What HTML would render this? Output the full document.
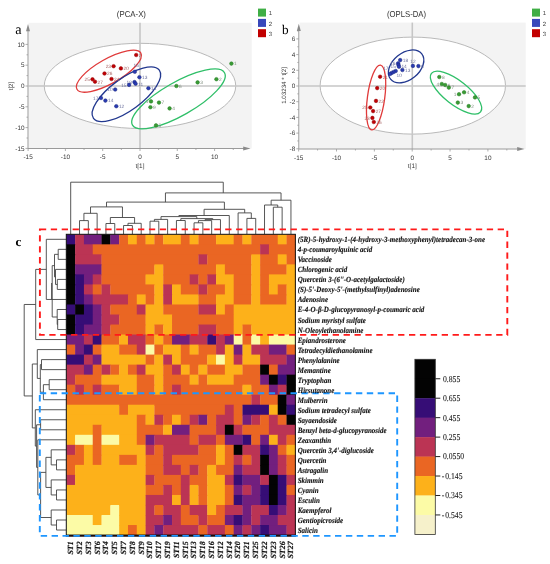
<!DOCTYPE html>
<html><head><meta charset="utf-8"><title>Figure</title>
<style>html,body{margin:0;padding:0;background:#fff;}body{width:550px;height:564px;overflow:hidden;}svg{display:block;}</style>
</head><body>
<svg width="550" height="564" viewBox="0 0 550 564" text-rendering="geometricPrecision">
<rect width="550" height="564" fill="#fff"/>
<rect x="28.5" y="22.8" width="223.2" height="125.7" fill="#f3f3f3"/>
<ellipse cx="140.0" cy="85.9" rx="95.75" ry="42.6" fill="#fff" stroke="#a8a8a8" stroke-width="0.8"/>
<line x1="140.0" y1="22.8" x2="140.0" y2="148.5" stroke="#c6c6c6" stroke-width="1.6"/>
<line x1="28.5" y1="86.0" x2="251.7" y2="86.0" stroke="#c6c6c6" stroke-width="1.6"/>
<line x1="28.0" y1="148.5" x2="28.0" y2="27.8" stroke="#9a9a9a" stroke-width="1"/>
<line x1="28.0" y1="148.5" x2="246.7" y2="148.5" stroke="#9a9a9a" stroke-width="1"/>
<path d="M26.0,31.3 L28.0,24.0 L30.0,31.3 Z" fill="#8a8a8a"/>
<path d="M243.2,146.5 L250.5,148.5 L243.2,150.5 Z" fill="#8a8a8a"/>
<line x1="25.5" y1="44.4" x2="28.0" y2="44.4" stroke="#9a9a9a" stroke-width="0.8"/>
<text x="24.50" y="46.60" font-size="6.4" fill="#383838" text-anchor="end" font-family="'Liberation Sans', 'DejaVu Sans', sans-serif" >10</text>
<line x1="25.5" y1="65.2" x2="28.0" y2="65.2" stroke="#9a9a9a" stroke-width="0.8"/>
<text x="24.50" y="67.40" font-size="6.4" fill="#383838" text-anchor="end" font-family="'Liberation Sans', 'DejaVu Sans', sans-serif" >5</text>
<line x1="25.5" y1="86.0" x2="28.0" y2="86.0" stroke="#9a9a9a" stroke-width="0.8"/>
<text x="24.50" y="88.20" font-size="6.4" fill="#383838" text-anchor="end" font-family="'Liberation Sans', 'DejaVu Sans', sans-serif" >0</text>
<line x1="25.5" y1="106.8" x2="28.0" y2="106.8" stroke="#9a9a9a" stroke-width="0.8"/>
<text x="24.50" y="109.00" font-size="6.4" fill="#383838" text-anchor="end" font-family="'Liberation Sans', 'DejaVu Sans', sans-serif" >-5</text>
<line x1="25.5" y1="127.6" x2="28.0" y2="127.6" stroke="#9a9a9a" stroke-width="0.8"/>
<text x="24.50" y="129.80" font-size="6.4" fill="#383838" text-anchor="end" font-family="'Liberation Sans', 'DejaVu Sans', sans-serif" >-10</text>
<line x1="25.5" y1="148.4" x2="28.0" y2="148.4" stroke="#9a9a9a" stroke-width="0.8"/>
<text x="24.50" y="150.60" font-size="6.4" fill="#383838" text-anchor="end" font-family="'Liberation Sans', 'DejaVu Sans', sans-serif" >-15</text>
<line x1="26.5" y1="54.8" x2="28.0" y2="54.8" stroke="#9a9a9a" stroke-width="0.8"/>
<line x1="26.5" y1="75.6" x2="28.0" y2="75.6" stroke="#9a9a9a" stroke-width="0.8"/>
<line x1="26.5" y1="96.4" x2="28.0" y2="96.4" stroke="#9a9a9a" stroke-width="0.8"/>
<line x1="26.5" y1="117.2" x2="28.0" y2="117.2" stroke="#9a9a9a" stroke-width="0.8"/>
<line x1="26.5" y1="138.0" x2="28.0" y2="138.0" stroke="#9a9a9a" stroke-width="0.8"/>
<line x1="28.099999999999994" y1="148.5" x2="28.099999999999994" y2="151.0" stroke="#9a9a9a" stroke-width="0.8"/>
<text x="28.10" y="159.30" font-size="6.4" fill="#383838" text-anchor="middle" font-family="'Liberation Sans', 'DejaVu Sans', sans-serif" >-15</text>
<line x1="65.4" y1="148.5" x2="65.4" y2="151.0" stroke="#9a9a9a" stroke-width="0.8"/>
<text x="65.40" y="159.30" font-size="6.4" fill="#383838" text-anchor="middle" font-family="'Liberation Sans', 'DejaVu Sans', sans-serif" >-10</text>
<line x1="102.7" y1="148.5" x2="102.7" y2="151.0" stroke="#9a9a9a" stroke-width="0.8"/>
<text x="102.70" y="159.30" font-size="6.4" fill="#383838" text-anchor="middle" font-family="'Liberation Sans', 'DejaVu Sans', sans-serif" >-5</text>
<line x1="140.0" y1="148.5" x2="140.0" y2="151.0" stroke="#9a9a9a" stroke-width="0.8"/>
<text x="140.00" y="159.30" font-size="6.4" fill="#383838" text-anchor="middle" font-family="'Liberation Sans', 'DejaVu Sans', sans-serif" >0</text>
<line x1="177.3" y1="148.5" x2="177.3" y2="151.0" stroke="#9a9a9a" stroke-width="0.8"/>
<text x="177.30" y="159.30" font-size="6.4" fill="#383838" text-anchor="middle" font-family="'Liberation Sans', 'DejaVu Sans', sans-serif" >5</text>
<line x1="214.6" y1="148.5" x2="214.6" y2="151.0" stroke="#9a9a9a" stroke-width="0.8"/>
<text x="214.60" y="159.30" font-size="6.4" fill="#383838" text-anchor="middle" font-family="'Liberation Sans', 'DejaVu Sans', sans-serif" >10</text>
<line x1="46.75" y1="148.5" x2="46.75" y2="150.0" stroke="#9a9a9a" stroke-width="0.8"/>
<line x1="84.05" y1="148.5" x2="84.05" y2="150.0" stroke="#9a9a9a" stroke-width="0.8"/>
<line x1="121.35" y1="148.5" x2="121.35" y2="150.0" stroke="#9a9a9a" stroke-width="0.8"/>
<line x1="158.65" y1="148.5" x2="158.65" y2="150.0" stroke="#9a9a9a" stroke-width="0.8"/>
<line x1="195.95" y1="148.5" x2="195.95" y2="150.0" stroke="#9a9a9a" stroke-width="0.8"/>
<line x1="233.25" y1="148.5" x2="233.25" y2="150.0" stroke="#9a9a9a" stroke-width="0.8"/>
<text x="140.00" y="167.60" font-size="6.4" fill="#383838" text-anchor="middle" font-family="'Liberation Sans', 'DejaVu Sans', sans-serif" >t[1]</text>
<text x="12.8" y="86.0" font-size="6.2" fill="#383838" text-anchor="middle" font-family="'Liberation Sans', 'DejaVu Sans', sans-serif" transform="rotate(-90 12.8 86.0)">t[2]</text>
<text x="131.40" y="17.20" font-size="8.6" fill="#333" text-anchor="middle" font-family="'Liberation Sans', 'DejaVu Sans', sans-serif" textLength="29.2" lengthAdjust="spacingAndGlyphs">(PCA-X)</text>
<ellipse cx="108.9" cy="71.2" rx="36.7" ry="12.3" transform="rotate(-29.5 108.9 71.2)" fill="none" stroke="#e03a3a" stroke-width="1.3"/>
<ellipse cx="126.4" cy="94.3" rx="40.8" ry="16.0" transform="rotate(-36.2 126.4 94.3)" fill="none" stroke="#22388f" stroke-width="1.3"/>
<ellipse cx="178.5" cy="98.9" rx="52.95" ry="16.6" transform="rotate(-29.66 178.5 98.9)" fill="none" stroke="#2fbf68" stroke-width="1.3"/>
<circle cx="136.2" cy="55.0" r="1.8" fill="#c00005" stroke="#900000" stroke-width="0.5"/>
<text x="138.80" y="56.80" font-size="4.8" fill="#a86262" text-anchor="start" font-family="'Liberation Sans', 'DejaVu Sans', sans-serif" >2</text>
<circle cx="113.6" cy="66.2" r="1.8" fill="#c00005" stroke="#900000" stroke-width="0.5"/>
<text x="111.00" y="68.00" font-size="4.8" fill="#a86262" text-anchor="end" font-family="'Liberation Sans', 'DejaVu Sans', sans-serif" >23</text>
<circle cx="120.9" cy="68.4" r="1.8" fill="#c00005" stroke="#900000" stroke-width="0.5"/>
<text x="123.50" y="70.20" font-size="4.8" fill="#a86262" text-anchor="start" font-family="'Liberation Sans', 'DejaVu Sans', sans-serif" >20</text>
<circle cx="104.5" cy="73.5" r="1.8" fill="#c00005" stroke="#900000" stroke-width="0.5"/>
<text x="107.10" y="75.30" font-size="4.8" fill="#a86262" text-anchor="start" font-family="'Liberation Sans', 'DejaVu Sans', sans-serif" >26</text>
<circle cx="111.5" cy="79.0" r="1.8" fill="#c00005" stroke="#900000" stroke-width="0.5"/>
<text x="114.10" y="80.80" font-size="4.8" fill="#a86262" text-anchor="start" font-family="'Liberation Sans', 'DejaVu Sans', sans-serif" >24</text>
<circle cx="92.5" cy="79.3" r="1.8" fill="#c00005" stroke="#900000" stroke-width="0.5"/>
<text x="89.90" y="81.10" font-size="4.8" fill="#a86262" text-anchor="end" font-family="'Liberation Sans', 'DejaVu Sans', sans-serif" >25</text>
<circle cx="95.0" cy="81.7" r="1.8" fill="#c00005" stroke="#900000" stroke-width="0.5"/>
<text x="97.60" y="83.50" font-size="4.8" fill="#a86262" text-anchor="start" font-family="'Liberation Sans', 'DejaVu Sans', sans-serif" >27</text>
<circle cx="134.8" cy="71.8" r="1.8" fill="#2a3bb2" stroke="#17247c" stroke-width="0.5"/>
<text x="133.50" y="67.20" font-size="4.8" fill="#6a6f9c" text-anchor="start" font-family="'Liberation Sans', 'DejaVu Sans', sans-serif" >16</text>
<circle cx="139.4" cy="77.2" r="1.8" fill="#2a3bb2" stroke="#17247c" stroke-width="0.5"/>
<text x="142.00" y="79.00" font-size="4.8" fill="#6a6f9c" text-anchor="start" font-family="'Liberation Sans', 'DejaVu Sans', sans-serif" >13</text>
<circle cx="134.5" cy="82.1" r="1.8" fill="#2a3bb2" stroke="#17247c" stroke-width="0.5"/>
<text x="131.90" y="83.90" font-size="4.8" fill="#6a6f9c" text-anchor="end" font-family="'Liberation Sans', 'DejaVu Sans', sans-serif" >18</text>
<circle cx="135.6" cy="83.7" r="1.8" fill="#2a3bb2" stroke="#17247c" stroke-width="0.5"/>
<text x="138.20" y="85.50" font-size="4.8" fill="#6a6f9c" text-anchor="start" font-family="'Liberation Sans', 'DejaVu Sans', sans-serif" >11</text>
<circle cx="129.1" cy="84.9" r="1.8" fill="#2a3bb2" stroke="#17247c" stroke-width="0.5"/>
<text x="126.50" y="86.70" font-size="4.8" fill="#6a6f9c" text-anchor="end" font-family="'Liberation Sans', 'DejaVu Sans', sans-serif" >15</text>
<circle cx="148.4" cy="88.2" r="1.8" fill="#2a3bb2" stroke="#17247c" stroke-width="0.5"/>
<text x="151.00" y="90.00" font-size="4.8" fill="#6a6f9c" text-anchor="start" font-family="'Liberation Sans', 'DejaVu Sans', sans-serif" >14</text>
<circle cx="115.2" cy="89.5" r="1.8" fill="#2a3bb2" stroke="#17247c" stroke-width="0.5"/>
<text x="112.60" y="91.30" font-size="4.8" fill="#6a6f9c" text-anchor="end" font-family="'Liberation Sans', 'DejaVu Sans', sans-serif" >10</text>
<circle cx="101.0" cy="98.0" r="1.8" fill="#2a3bb2" stroke="#17247c" stroke-width="0.5"/>
<text x="98.40" y="99.80" font-size="4.8" fill="#6a6f9c" text-anchor="end" font-family="'Liberation Sans', 'DejaVu Sans', sans-serif" >17</text>
<circle cx="105.4" cy="100.6" r="1.8" fill="#2a3bb2" stroke="#17247c" stroke-width="0.5"/>
<text x="108.00" y="102.40" font-size="4.8" fill="#6a6f9c" text-anchor="start" font-family="'Liberation Sans', 'DejaVu Sans', sans-serif" >14</text>
<circle cx="116.3" cy="106.2" r="1.8" fill="#2a3bb2" stroke="#17247c" stroke-width="0.5"/>
<text x="118.90" y="108.00" font-size="4.8" fill="#6a6f9c" text-anchor="start" font-family="'Liberation Sans', 'DejaVu Sans', sans-serif" >12</text>
<circle cx="231.4" cy="63.6" r="1.8" fill="#3a9b35" stroke="#217a1f" stroke-width="0.5"/>
<text x="234.00" y="65.40" font-size="4.8" fill="#7d8c7d" text-anchor="start" font-family="'Liberation Sans', 'DejaVu Sans', sans-serif" >1</text>
<circle cx="216.4" cy="79.2" r="1.8" fill="#3a9b35" stroke="#217a1f" stroke-width="0.5"/>
<text x="219.00" y="81.00" font-size="4.8" fill="#7d8c7d" text-anchor="start" font-family="'Liberation Sans', 'DejaVu Sans', sans-serif" >2</text>
<circle cx="197.6" cy="82.4" r="1.8" fill="#3a9b35" stroke="#217a1f" stroke-width="0.5"/>
<text x="200.20" y="84.20" font-size="4.8" fill="#7d8c7d" text-anchor="start" font-family="'Liberation Sans', 'DejaVu Sans', sans-serif" >3</text>
<circle cx="176.4" cy="86.0" r="1.8" fill="#3a9b35" stroke="#217a1f" stroke-width="0.5"/>
<text x="179.00" y="87.80" font-size="4.8" fill="#7d8c7d" text-anchor="start" font-family="'Liberation Sans', 'DejaVu Sans', sans-serif" >6</text>
<circle cx="151.0" cy="101.4" r="1.8" fill="#3a9b35" stroke="#217a1f" stroke-width="0.5"/>
<text x="148.40" y="103.20" font-size="4.8" fill="#7d8c7d" text-anchor="end" font-family="'Liberation Sans', 'DejaVu Sans', sans-serif" >1</text>
<circle cx="159.0" cy="102.6" r="1.8" fill="#3a9b35" stroke="#217a1f" stroke-width="0.5"/>
<text x="161.60" y="104.40" font-size="4.8" fill="#7d8c7d" text-anchor="start" font-family="'Liberation Sans', 'DejaVu Sans', sans-serif" >7</text>
<circle cx="150.4" cy="107.2" r="1.8" fill="#3a9b35" stroke="#217a1f" stroke-width="0.5"/>
<text x="153.00" y="109.00" font-size="4.8" fill="#7d8c7d" text-anchor="start" font-family="'Liberation Sans', 'DejaVu Sans', sans-serif" >9</text>
<circle cx="169.6" cy="108.4" r="1.8" fill="#3a9b35" stroke="#217a1f" stroke-width="0.5"/>
<text x="172.20" y="110.20" font-size="4.8" fill="#7d8c7d" text-anchor="start" font-family="'Liberation Sans', 'DejaVu Sans', sans-serif" >4</text>
<circle cx="156.0" cy="125.4" r="1.8" fill="#3a9b35" stroke="#217a1f" stroke-width="0.5"/>
<text x="158.60" y="127.20" font-size="4.8" fill="#7d8c7d" text-anchor="start" font-family="'Liberation Sans', 'DejaVu Sans', sans-serif" >5</text>
<rect x="258.0" y="8.60" width="8" height="8" fill="#3fae45"/>
<text x="268.80" y="15.20" font-size="6" fill="#444" text-anchor="start" font-family="'Liberation Sans', 'DejaVu Sans', sans-serif" >1</text>
<rect x="258.0" y="18.90" width="8" height="8" fill="#3848bb"/>
<text x="268.80" y="25.50" font-size="6" fill="#444" text-anchor="start" font-family="'Liberation Sans', 'DejaVu Sans', sans-serif" >2</text>
<rect x="258.0" y="29.20" width="8" height="8" fill="#c20000"/>
<text x="268.80" y="35.80" font-size="6" fill="#444" text-anchor="start" font-family="'Liberation Sans', 'DejaVu Sans', sans-serif" >3</text>
<text x="15.20" y="33.90" font-size="14.2" fill="#000" text-anchor="start" font-family="'Liberation Serif', 'DejaVu Serif', serif" >a</text>
<rect x="299.5" y="22.6" width="226.20000000000005" height="126.4" fill="#f3f3f3"/>
<ellipse cx="412.8" cy="85.6" rx="92.7" ry="48.5" fill="#fff" stroke="#a8a8a8" stroke-width="0.8"/>
<line x1="412.3" y1="22.6" x2="412.3" y2="149.0" stroke="#c6c6c6" stroke-width="1.6"/>
<line x1="299.5" y1="86.0" x2="525.7" y2="86.0" stroke="#c6c6c6" stroke-width="1.6"/>
<line x1="298.8" y1="149.0" x2="298.8" y2="27.6" stroke="#9a9a9a" stroke-width="1"/>
<line x1="298.8" y1="149.0" x2="520.7" y2="149.0" stroke="#9a9a9a" stroke-width="1"/>
<path d="M296.8,31.1 L298.8,23.8 L300.8,31.1 Z" fill="#8a8a8a"/>
<path d="M517.2,147.0 L524.5,149.0 L517.2,151.0 Z" fill="#8a8a8a"/>
<line x1="296.3" y1="38.900000000000006" x2="298.8" y2="38.900000000000006" stroke="#9a9a9a" stroke-width="0.8"/>
<text x="295.30" y="41.10" font-size="6.4" fill="#383838" text-anchor="end" font-family="'Liberation Sans', 'DejaVu Sans', sans-serif" >6</text>
<line x1="296.3" y1="54.6" x2="298.8" y2="54.6" stroke="#9a9a9a" stroke-width="0.8"/>
<text x="295.30" y="56.80" font-size="6.4" fill="#383838" text-anchor="end" font-family="'Liberation Sans', 'DejaVu Sans', sans-serif" >4</text>
<line x1="296.3" y1="70.3" x2="298.8" y2="70.3" stroke="#9a9a9a" stroke-width="0.8"/>
<text x="295.30" y="72.50" font-size="6.4" fill="#383838" text-anchor="end" font-family="'Liberation Sans', 'DejaVu Sans', sans-serif" >2</text>
<line x1="296.3" y1="86.0" x2="298.8" y2="86.0" stroke="#9a9a9a" stroke-width="0.8"/>
<text x="295.30" y="88.20" font-size="6.4" fill="#383838" text-anchor="end" font-family="'Liberation Sans', 'DejaVu Sans', sans-serif" >0</text>
<line x1="296.3" y1="101.7" x2="298.8" y2="101.7" stroke="#9a9a9a" stroke-width="0.8"/>
<text x="295.30" y="103.90" font-size="6.4" fill="#383838" text-anchor="end" font-family="'Liberation Sans', 'DejaVu Sans', sans-serif" >-2</text>
<line x1="296.3" y1="117.4" x2="298.8" y2="117.4" stroke="#9a9a9a" stroke-width="0.8"/>
<text x="295.30" y="119.60" font-size="6.4" fill="#383838" text-anchor="end" font-family="'Liberation Sans', 'DejaVu Sans', sans-serif" >-4</text>
<line x1="296.3" y1="133.1" x2="298.8" y2="133.1" stroke="#9a9a9a" stroke-width="0.8"/>
<text x="295.30" y="135.30" font-size="6.4" fill="#383838" text-anchor="end" font-family="'Liberation Sans', 'DejaVu Sans', sans-serif" >-6</text>
<line x1="296.3" y1="148.8" x2="298.8" y2="148.8" stroke="#9a9a9a" stroke-width="0.8"/>
<text x="295.30" y="151.00" font-size="6.4" fill="#383838" text-anchor="end" font-family="'Liberation Sans', 'DejaVu Sans', sans-serif" >-8</text>
<line x1="297.3" y1="31.050000000000004" x2="298.8" y2="31.050000000000004" stroke="#9a9a9a" stroke-width="0.8"/>
<line x1="297.3" y1="46.75" x2="298.8" y2="46.75" stroke="#9a9a9a" stroke-width="0.8"/>
<line x1="297.3" y1="62.45" x2="298.8" y2="62.45" stroke="#9a9a9a" stroke-width="0.8"/>
<line x1="297.3" y1="78.15" x2="298.8" y2="78.15" stroke="#9a9a9a" stroke-width="0.8"/>
<line x1="297.3" y1="93.85" x2="298.8" y2="93.85" stroke="#9a9a9a" stroke-width="0.8"/>
<line x1="297.3" y1="109.55" x2="298.8" y2="109.55" stroke="#9a9a9a" stroke-width="0.8"/>
<line x1="297.3" y1="125.25" x2="298.8" y2="125.25" stroke="#9a9a9a" stroke-width="0.8"/>
<line x1="297.3" y1="140.95" x2="298.8" y2="140.95" stroke="#9a9a9a" stroke-width="0.8"/>
<line x1="298.65" y1="149.0" x2="298.65" y2="151.5" stroke="#9a9a9a" stroke-width="0.8"/>
<text x="298.65" y="159.80" font-size="6.4" fill="#383838" text-anchor="middle" font-family="'Liberation Sans', 'DejaVu Sans', sans-serif" >-15</text>
<line x1="336.5" y1="149.0" x2="336.5" y2="151.5" stroke="#9a9a9a" stroke-width="0.8"/>
<text x="336.50" y="159.80" font-size="6.4" fill="#383838" text-anchor="middle" font-family="'Liberation Sans', 'DejaVu Sans', sans-serif" >-10</text>
<line x1="374.34999999999997" y1="149.0" x2="374.34999999999997" y2="151.5" stroke="#9a9a9a" stroke-width="0.8"/>
<text x="374.35" y="159.80" font-size="6.4" fill="#383838" text-anchor="middle" font-family="'Liberation Sans', 'DejaVu Sans', sans-serif" >-5</text>
<line x1="412.2" y1="149.0" x2="412.2" y2="151.5" stroke="#9a9a9a" stroke-width="0.8"/>
<text x="412.20" y="159.80" font-size="6.4" fill="#383838" text-anchor="middle" font-family="'Liberation Sans', 'DejaVu Sans', sans-serif" >0</text>
<line x1="450.05" y1="149.0" x2="450.05" y2="151.5" stroke="#9a9a9a" stroke-width="0.8"/>
<text x="450.05" y="159.80" font-size="6.4" fill="#383838" text-anchor="middle" font-family="'Liberation Sans', 'DejaVu Sans', sans-serif" >5</text>
<line x1="487.9" y1="149.0" x2="487.9" y2="151.5" stroke="#9a9a9a" stroke-width="0.8"/>
<text x="487.90" y="159.80" font-size="6.4" fill="#383838" text-anchor="middle" font-family="'Liberation Sans', 'DejaVu Sans', sans-serif" >10</text>
<line x1="317.575" y1="149.0" x2="317.575" y2="150.5" stroke="#9a9a9a" stroke-width="0.8"/>
<line x1="355.42499999999995" y1="149.0" x2="355.42499999999995" y2="150.5" stroke="#9a9a9a" stroke-width="0.8"/>
<line x1="393.275" y1="149.0" x2="393.275" y2="150.5" stroke="#9a9a9a" stroke-width="0.8"/>
<line x1="431.125" y1="149.0" x2="431.125" y2="150.5" stroke="#9a9a9a" stroke-width="0.8"/>
<line x1="468.975" y1="149.0" x2="468.975" y2="150.5" stroke="#9a9a9a" stroke-width="0.8"/>
<line x1="506.825" y1="149.0" x2="506.825" y2="150.5" stroke="#9a9a9a" stroke-width="0.8"/>
<text x="412.30" y="167.60" font-size="6.4" fill="#383838" text-anchor="middle" font-family="'Liberation Sans', 'DejaVu Sans', sans-serif" >t[1]</text>
<text x="285.6" y="85.4" font-size="6.2" fill="#383838" text-anchor="middle" font-family="'Liberation Sans', 'DejaVu Sans', sans-serif" transform="rotate(-90 285.6 85.4)">1.03234 * t[2]</text>
<text x="406.50" y="17.20" font-size="8.6" fill="#333" text-anchor="middle" font-family="'Liberation Sans', 'DejaVu Sans', sans-serif" textLength="39.0" lengthAdjust="spacingAndGlyphs">(OPLS-DA)</text>
<ellipse cx="376.1" cy="97.5" rx="32.7" ry="8.65" transform="rotate(-82.3 376.1 97.5)" fill="none" stroke="#e03a3a" stroke-width="1.3"/>
<ellipse cx="406.1" cy="66.4" rx="20.06" ry="13.5" transform="rotate(-39.3 406.1 66.4)" fill="none" stroke="#22388f" stroke-width="1.3"/>
<ellipse cx="456.0" cy="92.6" rx="31.2" ry="12.0" transform="rotate(38.0 456.0 92.6)" fill="none" stroke="#2fbf68" stroke-width="1.3"/>
<circle cx="380.1" cy="76.7" r="1.8" fill="#c00005" stroke="#900000" stroke-width="0.5"/>
<text x="382.70" y="78.50" font-size="4.8" fill="#a86262" text-anchor="start" font-family="'Liberation Sans', 'DejaVu Sans', sans-serif" >21</text>
<circle cx="377.2" cy="88.1" r="1.8" fill="#c00005" stroke="#900000" stroke-width="0.5"/>
<text x="379.80" y="89.90" font-size="4.8" fill="#a86262" text-anchor="start" font-family="'Liberation Sans', 'DejaVu Sans', sans-serif" >20</text>
<circle cx="376.0" cy="100.9" r="1.8" fill="#c00005" stroke="#900000" stroke-width="0.5"/>
<text x="378.60" y="102.70" font-size="4.8" fill="#a86262" text-anchor="start" font-family="'Liberation Sans', 'DejaVu Sans', sans-serif" >22</text>
<circle cx="370.3" cy="107.5" r="1.8" fill="#c00005" stroke="#900000" stroke-width="0.5"/>
<text x="367.70" y="109.30" font-size="4.8" fill="#a86262" text-anchor="end" font-family="'Liberation Sans', 'DejaVu Sans', sans-serif" >25</text>
<circle cx="373.1" cy="111.1" r="1.8" fill="#c00005" stroke="#900000" stroke-width="0.5"/>
<text x="375.70" y="112.90" font-size="4.8" fill="#a86262" text-anchor="start" font-family="'Liberation Sans', 'DejaVu Sans', sans-serif" >27</text>
<circle cx="372.4" cy="117.9" r="1.8" fill="#c00005" stroke="#900000" stroke-width="0.5"/>
<text x="369.80" y="119.70" font-size="4.8" fill="#a86262" text-anchor="end" font-family="'Liberation Sans', 'DejaVu Sans', sans-serif" >23</text>
<circle cx="373.8" cy="122.0" r="1.8" fill="#c00005" stroke="#900000" stroke-width="0.5"/>
<text x="376.40" y="123.80" font-size="4.8" fill="#a86262" text-anchor="start" font-family="'Liberation Sans', 'DejaVu Sans', sans-serif" >26</text>
<circle cx="400.2" cy="60.1" r="1.8" fill="#2a3bb2" stroke="#17247c" stroke-width="0.5"/>
<text x="402.80" y="61.90" font-size="4.8" fill="#6a6f9c" text-anchor="start" font-family="'Liberation Sans', 'DejaVu Sans', sans-serif" >18</text>
<circle cx="412.9" cy="65.9" r="1.8" fill="#2a3bb2" stroke="#17247c" stroke-width="0.5"/>
<text x="412.90" y="62.70" font-size="4.8" fill="#6a6f9c" text-anchor="middle" font-family="'Liberation Sans', 'DejaVu Sans', sans-serif" >12</text>
<circle cx="418.4" cy="66.1" r="1.8" fill="#2a3bb2" stroke="#17247c" stroke-width="0.5"/>
<text x="421.00" y="67.90" font-size="4.8" fill="#6a6f9c" text-anchor="start" font-family="'Liberation Sans', 'DejaVu Sans', sans-serif" >6</text>
<circle cx="398.1" cy="63.4" r="1.8" fill="#2a3bb2" stroke="#17247c" stroke-width="0.5"/>
<text x="395.50" y="65.20" font-size="4.8" fill="#6a6f9c" text-anchor="end" font-family="'Liberation Sans', 'DejaVu Sans', sans-serif" >16</text>
<circle cx="398.5" cy="65.0" r="1.8" fill="#2a3bb2" stroke="#17247c" stroke-width="0.5"/>
<text x="395.90" y="67.60" font-size="4.8" fill="#6a6f9c" text-anchor="end" font-family="'Liberation Sans', 'DejaVu Sans', sans-serif" >15</text>
<circle cx="399.0" cy="66.7" r="1.8" fill="#2a3bb2" stroke="#17247c" stroke-width="0.5"/>
<text x="401.40" y="68.10" font-size="4.8" fill="#6a6f9c" text-anchor="start" font-family="'Liberation Sans', 'DejaVu Sans', sans-serif" >14</text>
<circle cx="402.4" cy="70.0" r="1.8" fill="#2a3bb2" stroke="#17247c" stroke-width="0.5"/>
<text x="405.00" y="71.80" font-size="4.8" fill="#6a6f9c" text-anchor="start" font-family="'Liberation Sans', 'DejaVu Sans', sans-serif" >13</text>
<circle cx="395.7" cy="71.0" r="1.8" fill="#2a3bb2" stroke="#17247c" stroke-width="0.5"/>
<text x="399.20" y="77.20" font-size="4.8" fill="#6a6f9c" text-anchor="middle" font-family="'Liberation Sans', 'DejaVu Sans', sans-serif" >10</text>
<circle cx="393.6" cy="72.0" r="1.8" fill="#2a3bb2" stroke="#17247c" stroke-width="0.5"/>
<circle cx="391.6" cy="73.0" r="1.8" fill="#2a3bb2" stroke="#17247c" stroke-width="0.5"/>
<circle cx="390.0" cy="74.0" r="1.8" fill="#2a3bb2" stroke="#17247c" stroke-width="0.5"/>
<text x="388.50" y="69.50" font-size="4.8" fill="#6a6f9c" text-anchor="end" font-family="'Liberation Sans', 'DejaVu Sans', sans-serif" >17</text>
<circle cx="439.3" cy="77.0" r="1.8" fill="#3a9b35" stroke="#217a1f" stroke-width="0.5"/>
<text x="441.90" y="78.80" font-size="4.8" fill="#7d8c7d" text-anchor="start" font-family="'Liberation Sans', 'DejaVu Sans', sans-serif" >8</text>
<circle cx="441.8" cy="84.0" r="1.8" fill="#3a9b35" stroke="#217a1f" stroke-width="0.5"/>
<text x="439.20" y="85.80" font-size="4.8" fill="#7d8c7d" text-anchor="end" font-family="'Liberation Sans', 'DejaVu Sans', sans-serif" >4</text>
<circle cx="445.2" cy="85.0" r="1.8" fill="#3a9b35" stroke="#217a1f" stroke-width="0.5"/>
<text x="447.80" y="86.80" font-size="4.8" fill="#7d8c7d" text-anchor="start" font-family="'Liberation Sans', 'DejaVu Sans', sans-serif" >6</text>
<circle cx="448.8" cy="87.6" r="1.8" fill="#3a9b35" stroke="#217a1f" stroke-width="0.5"/>
<text x="451.40" y="89.40" font-size="4.8" fill="#7d8c7d" text-anchor="start" font-family="'Liberation Sans', 'DejaVu Sans', sans-serif" >7</text>
<circle cx="459.0" cy="94.2" r="1.8" fill="#3a9b35" stroke="#217a1f" stroke-width="0.5"/>
<text x="456.40" y="96.00" font-size="4.8" fill="#7d8c7d" text-anchor="end" font-family="'Liberation Sans', 'DejaVu Sans', sans-serif" >1</text>
<circle cx="464.1" cy="92.3" r="1.8" fill="#3a9b35" stroke="#217a1f" stroke-width="0.5"/>
<text x="466.70" y="94.10" font-size="4.8" fill="#7d8c7d" text-anchor="start" font-family="'Liberation Sans', 'DejaVu Sans', sans-serif" >4</text>
<circle cx="475.0" cy="97.4" r="1.8" fill="#3a9b35" stroke="#217a1f" stroke-width="0.5"/>
<text x="477.60" y="99.20" font-size="4.8" fill="#7d8c7d" text-anchor="start" font-family="'Liberation Sans', 'DejaVu Sans', sans-serif" >5</text>
<circle cx="457.8" cy="102.6" r="1.8" fill="#3a9b35" stroke="#217a1f" stroke-width="0.5"/>
<text x="460.40" y="104.40" font-size="4.8" fill="#7d8c7d" text-anchor="start" font-family="'Liberation Sans', 'DejaVu Sans', sans-serif" >3</text>
<circle cx="468.7" cy="106.1" r="1.8" fill="#3a9b35" stroke="#217a1f" stroke-width="0.5"/>
<text x="471.30" y="107.90" font-size="4.8" fill="#7d8c7d" text-anchor="start" font-family="'Liberation Sans', 'DejaVu Sans', sans-serif" >2</text>
<rect x="532.0" y="8.60" width="8" height="8" fill="#3fae45"/>
<text x="542.80" y="15.20" font-size="6" fill="#444" text-anchor="start" font-family="'Liberation Sans', 'DejaVu Sans', sans-serif" >1</text>
<rect x="532.0" y="18.90" width="8" height="8" fill="#3848bb"/>
<text x="542.80" y="25.50" font-size="6" fill="#444" text-anchor="start" font-family="'Liberation Sans', 'DejaVu Sans', sans-serif" >2</text>
<rect x="532.0" y="29.20" width="8" height="8" fill="#c20000"/>
<text x="542.80" y="35.80" font-size="6" fill="#444" text-anchor="start" font-family="'Liberation Sans', 'DejaVu Sans', sans-serif" >3</text>
<text x="282.00" y="33.80" font-size="13.2" fill="#000" text-anchor="start" font-family="'Liberation Serif', 'DejaVu Serif', serif" >b</text>
<path d="M79.52,234.30V220.60H88.33V234.30 M83.92,220.60V213.30H97.13V234.30 M105.94,234.30V223.50H114.75V234.30 M123.56,234.30V225.50H132.38V234.30 M127.97,225.50V223.30H141.19V234.30 M110.35,223.50V217.50H134.58V223.30 M90.53,213.30V206.90H122.46V217.50 M150.00,234.30V221.20H158.81V234.30 M154.40,221.20V219.40H167.62V234.30 M176.43,234.30V220.50H185.24V234.30 M194.05,234.30V222.80H202.86V234.30 M198.45,222.80V220.60H211.67V234.30 M205.06,220.60V219.60H220.48V234.30 M180.83,220.50V218.60H212.77V219.60 M161.01,219.40V216.60H196.80V218.60 M178.90,216.60V215.50H229.29V234.30 M246.91,234.30V218.40H255.72V234.30 M238.10,234.30V212.90H251.31V218.40 M204.09,215.50V209.30H244.70V212.90 M106.50,206.90V202.10H224.40V209.30 M273.34,234.30V207.20H282.14V234.30 M264.53,234.30V205.00H277.74V207.20 M271.13,205.00V200.20H290.95V234.30 M165.45,202.10V192.90H281.04V200.20 M70.70,234.30V182.20H223.25V192.90" stroke="#444" stroke-width="0.9" fill="none"/>
<path d="M66.30,249.34H58.20V259.36H66.30 M66.30,279.41H57.30V289.44H66.30 M66.30,269.39H55.50V284.43H57.30 M58.20,254.35H54.50V276.91H55.50 M66.30,319.51H57.70V329.54H66.30 M66.30,309.49H57.20V324.53H57.70 M54.50,265.63H52.2V317.01H57.20 M51.6,283V299.46 M66.30,239.31H46.3V299.46H66.30 M46.3,269.39H35.7V339.56H66.30 M66.30,359.61H41.50V369.64H66.30 M66.30,379.66H49.20V389.69H66.30 M49.20,384.68H43.40V399.71H66.30 M41.50,364.62H40.30V392.19H43.40 M66.30,349.59H37.30V378.41H40.30 M66.30,419.76H40.60V429.79H66.30 M66.30,459.86H56.50V469.89H66.30 M66.30,449.84H51.20V464.88H56.50 M66.30,489.94H56.50V499.96H66.30 M66.30,479.91H51.20V494.95H56.50 M51.20,457.36H45.90V487.43H51.20 M66.30,520.01H56.50V530.04H66.30 M66.30,509.99H51.20V525.03H56.50 M45.90,472.39H40.60V517.51H51.20 M66.30,439.81H37.80V494.95H40.60 M40.60,424.78H36.60V467.38H37.80 M66.30,409.74H35.30V446.08H36.60 M37.30,364.00H32.30V427.91H35.30 M35.70,304.48H24.20V395.95H32.30" stroke="#444" stroke-width="0.9" fill="none"/>
<rect x="66.30" y="234.30" width="9.11" height="11.03" fill="#360d76"/>
<rect x="75.11" y="234.30" width="9.11" height="11.03" fill="#bb3454"/>
<rect x="83.92" y="234.30" width="17.92" height="11.03" fill="#721f7e"/>
<rect x="101.54" y="234.30" width="9.11" height="11.03" fill="#030303"/>
<rect x="110.35" y="234.30" width="9.11" height="11.03" fill="#721f7e"/>
<rect x="119.16" y="234.30" width="9.11" height="11.03" fill="#ea6623"/>
<rect x="127.97" y="234.30" width="9.11" height="11.03" fill="#fdb11a"/>
<rect x="136.78" y="234.30" width="9.11" height="11.03" fill="#ea6623"/>
<rect x="145.59" y="234.30" width="9.11" height="11.03" fill="#fdb11a"/>
<rect x="154.40" y="234.30" width="9.11" height="11.03" fill="#ea6623"/>
<rect x="163.21" y="234.30" width="17.92" height="11.03" fill="#fdb11a"/>
<rect x="180.83" y="234.30" width="9.11" height="11.03" fill="#ea6623"/>
<rect x="189.64" y="234.30" width="9.11" height="11.03" fill="#fdb11a"/>
<rect x="198.45" y="234.30" width="17.92" height="11.03" fill="#ea6623"/>
<rect x="216.07" y="234.30" width="17.92" height="11.03" fill="#fdb11a"/>
<rect x="233.69" y="234.30" width="9.11" height="11.03" fill="#ea6623"/>
<rect x="242.50" y="234.30" width="9.11" height="11.03" fill="#fdb11a"/>
<rect x="251.31" y="234.30" width="26.73" height="11.03" fill="#ea6623"/>
<rect x="277.74" y="234.30" width="9.11" height="11.03" fill="#fdb11a"/>
<rect x="286.55" y="234.30" width="9.11" height="11.03" fill="#ea6623"/>
<rect x="66.30" y="244.33" width="9.11" height="11.03" fill="#030303"/>
<rect x="75.11" y="244.33" width="17.92" height="11.03" fill="#bb3454"/>
<rect x="92.73" y="244.33" width="167.69" height="11.03" fill="#ea6623"/>
<rect x="260.12" y="244.33" width="9.11" height="11.03" fill="#bb3454"/>
<rect x="268.93" y="244.33" width="26.73" height="11.03" fill="#ea6623"/>
<rect x="66.30" y="254.35" width="9.11" height="11.03" fill="#030303"/>
<rect x="75.11" y="254.35" width="26.73" height="11.03" fill="#bb3454"/>
<rect x="101.54" y="254.35" width="97.21" height="11.03" fill="#ea6623"/>
<rect x="198.45" y="254.35" width="9.11" height="11.03" fill="#bb3454"/>
<rect x="207.26" y="254.35" width="44.35" height="11.03" fill="#ea6623"/>
<rect x="251.31" y="254.35" width="9.11" height="11.03" fill="#fdb11a"/>
<rect x="260.12" y="254.35" width="17.92" height="11.03" fill="#ea6623"/>
<rect x="277.74" y="254.35" width="9.11" height="11.03" fill="#fdb11a"/>
<rect x="286.55" y="254.35" width="9.11" height="11.03" fill="#ea6623"/>
<rect x="66.30" y="264.38" width="9.11" height="11.03" fill="#030303"/>
<rect x="75.11" y="264.38" width="26.73" height="11.03" fill="#721f7e"/>
<rect x="101.54" y="264.38" width="53.16" height="11.03" fill="#ea6623"/>
<rect x="154.40" y="264.38" width="9.11" height="11.03" fill="#fdb11a"/>
<rect x="163.21" y="264.38" width="53.16" height="11.03" fill="#ea6623"/>
<rect x="216.07" y="264.38" width="9.11" height="11.03" fill="#fdb11a"/>
<rect x="224.88" y="264.38" width="26.73" height="11.03" fill="#ea6623"/>
<rect x="251.31" y="264.38" width="9.11" height="11.03" fill="#fdb11a"/>
<rect x="260.12" y="264.38" width="26.73" height="11.03" fill="#ea6623"/>
<rect x="286.55" y="264.38" width="9.11" height="11.03" fill="#fdb11a"/>
<rect x="66.30" y="274.40" width="9.11" height="11.03" fill="#030303"/>
<rect x="75.11" y="274.40" width="9.11" height="11.03" fill="#360d76"/>
<rect x="83.92" y="274.40" width="9.11" height="11.03" fill="#721f7e"/>
<rect x="92.73" y="274.40" width="9.11" height="11.03" fill="#bb3454"/>
<rect x="101.54" y="274.40" width="44.35" height="11.03" fill="#ea6623"/>
<rect x="145.59" y="274.40" width="17.92" height="11.03" fill="#fdb11a"/>
<rect x="163.21" y="274.40" width="26.73" height="11.03" fill="#ea6623"/>
<rect x="189.64" y="274.40" width="9.11" height="11.03" fill="#bb3454"/>
<rect x="198.45" y="274.40" width="9.11" height="11.03" fill="#ea6623"/>
<rect x="207.26" y="274.40" width="9.11" height="11.03" fill="#bb3454"/>
<rect x="216.07" y="274.40" width="17.92" height="11.03" fill="#fdb11a"/>
<rect x="233.69" y="274.40" width="17.92" height="11.03" fill="#ea6623"/>
<rect x="251.31" y="274.40" width="9.11" height="11.03" fill="#fdb11a"/>
<rect x="260.12" y="274.40" width="9.11" height="11.03" fill="#ea6623"/>
<rect x="268.93" y="274.40" width="26.73" height="11.03" fill="#fdb11a"/>
<rect x="66.30" y="284.43" width="9.11" height="11.03" fill="#030303"/>
<rect x="75.11" y="284.43" width="9.11" height="11.03" fill="#360d76"/>
<rect x="83.92" y="284.43" width="9.11" height="11.03" fill="#bb3454"/>
<rect x="92.73" y="284.43" width="9.11" height="11.03" fill="#ea6623"/>
<rect x="101.54" y="284.43" width="9.11" height="11.03" fill="#bb3454"/>
<rect x="110.35" y="284.43" width="44.35" height="11.03" fill="#ea6623"/>
<rect x="154.40" y="284.43" width="9.11" height="11.03" fill="#fdb11a"/>
<rect x="163.21" y="284.43" width="9.11" height="11.03" fill="#bb3454"/>
<rect x="172.02" y="284.43" width="9.11" height="11.03" fill="#fdb11a"/>
<rect x="180.83" y="284.43" width="17.92" height="11.03" fill="#ea6623"/>
<rect x="198.45" y="284.43" width="9.11" height="11.03" fill="#bb3454"/>
<rect x="207.26" y="284.43" width="17.92" height="11.03" fill="#ea6623"/>
<rect x="224.88" y="284.43" width="9.11" height="11.03" fill="#fdb11a"/>
<rect x="233.69" y="284.43" width="17.92" height="11.03" fill="#ea6623"/>
<rect x="251.31" y="284.43" width="9.11" height="11.03" fill="#fdb11a"/>
<rect x="260.12" y="284.43" width="9.11" height="11.03" fill="#ea6623"/>
<rect x="268.93" y="284.43" width="9.11" height="11.03" fill="#fdb11a"/>
<rect x="277.74" y="284.43" width="9.11" height="11.03" fill="#ea6623"/>
<rect x="286.55" y="284.43" width="9.11" height="11.03" fill="#fdb11a"/>
<rect x="66.30" y="294.45" width="9.11" height="11.03" fill="#030303"/>
<rect x="75.11" y="294.45" width="9.11" height="11.03" fill="#360d76"/>
<rect x="83.92" y="294.45" width="9.11" height="11.03" fill="#721f7e"/>
<rect x="92.73" y="294.45" width="35.54" height="11.03" fill="#bb3454"/>
<rect x="127.97" y="294.45" width="9.11" height="11.03" fill="#ea6623"/>
<rect x="136.78" y="294.45" width="9.11" height="11.03" fill="#fdb11a"/>
<rect x="145.59" y="294.45" width="9.11" height="11.03" fill="#ea6623"/>
<rect x="154.40" y="294.45" width="9.11" height="11.03" fill="#fdb11a"/>
<rect x="163.21" y="294.45" width="9.11" height="11.03" fill="#bb3454"/>
<rect x="172.02" y="294.45" width="26.73" height="11.03" fill="#fdb11a"/>
<rect x="198.45" y="294.45" width="17.92" height="11.03" fill="#ea6623"/>
<rect x="216.07" y="294.45" width="17.92" height="11.03" fill="#fdb11a"/>
<rect x="233.69" y="294.45" width="17.92" height="11.03" fill="#ea6623"/>
<rect x="251.31" y="294.45" width="9.11" height="11.03" fill="#fdb11a"/>
<rect x="260.12" y="294.45" width="26.73" height="11.03" fill="#ea6623"/>
<rect x="286.55" y="294.45" width="9.11" height="11.03" fill="#fdb11a"/>
<rect x="66.30" y="304.48" width="9.11" height="11.03" fill="#360d76"/>
<rect x="75.11" y="304.48" width="9.11" height="11.03" fill="#030303"/>
<rect x="83.92" y="304.48" width="9.11" height="11.03" fill="#360d76"/>
<rect x="92.73" y="304.48" width="9.11" height="11.03" fill="#721f7e"/>
<rect x="101.54" y="304.48" width="9.11" height="11.03" fill="#bb3454"/>
<rect x="110.35" y="304.48" width="26.73" height="11.03" fill="#ea6623"/>
<rect x="136.78" y="304.48" width="9.11" height="11.03" fill="#bb3454"/>
<rect x="145.59" y="304.48" width="17.92" height="11.03" fill="#fdb11a"/>
<rect x="163.21" y="304.48" width="35.54" height="11.03" fill="#ea6623"/>
<rect x="198.45" y="304.48" width="17.92" height="11.03" fill="#bb3454"/>
<rect x="216.07" y="304.48" width="9.11" height="11.03" fill="#fdb11a"/>
<rect x="224.88" y="304.48" width="9.11" height="11.03" fill="#ea6623"/>
<rect x="233.69" y="304.48" width="61.97" height="11.03" fill="#fdb11a"/>
<rect x="66.30" y="314.50" width="9.11" height="11.03" fill="#030303"/>
<rect x="75.11" y="314.50" width="17.92" height="11.03" fill="#360d76"/>
<rect x="92.73" y="314.50" width="9.11" height="11.03" fill="#721f7e"/>
<rect x="101.54" y="314.50" width="17.92" height="11.03" fill="#bb3454"/>
<rect x="119.16" y="314.50" width="26.73" height="11.03" fill="#ea6623"/>
<rect x="145.59" y="314.50" width="26.73" height="11.03" fill="#fdb11a"/>
<rect x="172.02" y="314.50" width="61.97" height="11.03" fill="#ea6623"/>
<rect x="233.69" y="314.50" width="61.97" height="11.03" fill="#fdb11a"/>
<rect x="66.30" y="324.53" width="9.11" height="11.03" fill="#030303"/>
<rect x="75.11" y="324.53" width="9.11" height="11.03" fill="#360d76"/>
<rect x="83.92" y="324.53" width="17.92" height="11.03" fill="#721f7e"/>
<rect x="101.54" y="324.53" width="9.11" height="11.03" fill="#bb3454"/>
<rect x="110.35" y="324.53" width="35.54" height="11.03" fill="#ea6623"/>
<rect x="145.59" y="324.53" width="9.11" height="11.03" fill="#fdb11a"/>
<rect x="154.40" y="324.53" width="9.11" height="11.03" fill="#ea6623"/>
<rect x="163.21" y="324.53" width="9.11" height="11.03" fill="#fdb11a"/>
<rect x="172.02" y="324.53" width="26.73" height="11.03" fill="#ea6623"/>
<rect x="198.45" y="324.53" width="17.92" height="11.03" fill="#bb3454"/>
<rect x="216.07" y="324.53" width="17.92" height="11.03" fill="#ea6623"/>
<rect x="233.69" y="324.53" width="9.11" height="11.03" fill="#fdb11a"/>
<rect x="242.50" y="324.53" width="9.11" height="11.03" fill="#ea6623"/>
<rect x="251.31" y="324.53" width="44.35" height="11.03" fill="#fdb11a"/>
<rect x="66.30" y="334.55" width="17.92" height="11.03" fill="#721f7e"/>
<rect x="83.92" y="334.55" width="9.11" height="11.03" fill="#bb3454"/>
<rect x="92.73" y="334.55" width="9.11" height="11.03" fill="#360d76"/>
<rect x="101.54" y="334.55" width="17.92" height="11.03" fill="#ea6623"/>
<rect x="119.16" y="334.55" width="9.11" height="11.03" fill="#fdb11a"/>
<rect x="127.97" y="334.55" width="17.92" height="11.03" fill="#bb3454"/>
<rect x="145.59" y="334.55" width="9.11" height="11.03" fill="#ea6623"/>
<rect x="154.40" y="334.55" width="9.11" height="11.03" fill="#fdb11a"/>
<rect x="163.21" y="334.55" width="9.11" height="11.03" fill="#ea6623"/>
<rect x="172.02" y="334.55" width="17.92" height="11.03" fill="#721f7e"/>
<rect x="189.64" y="334.55" width="17.92" height="11.03" fill="#bb3454"/>
<rect x="207.26" y="334.55" width="9.11" height="11.03" fill="#360d76"/>
<rect x="216.07" y="334.55" width="9.11" height="11.03" fill="#bb3454"/>
<rect x="224.88" y="334.55" width="9.11" height="11.03" fill="#721f7e"/>
<rect x="233.69" y="334.55" width="9.11" height="11.03" fill="#fcfba6"/>
<rect x="242.50" y="334.55" width="9.11" height="11.03" fill="#ea6623"/>
<rect x="251.31" y="334.55" width="9.11" height="11.03" fill="#fcfba6"/>
<rect x="260.12" y="334.55" width="9.11" height="11.03" fill="#fdb11a"/>
<rect x="268.93" y="334.55" width="26.73" height="11.03" fill="#fcfba6"/>
<rect x="66.30" y="344.58" width="9.11" height="11.03" fill="#ea6623"/>
<rect x="75.11" y="344.58" width="9.11" height="11.03" fill="#721f7e"/>
<rect x="83.92" y="344.58" width="9.11" height="11.03" fill="#360d76"/>
<rect x="92.73" y="344.58" width="9.11" height="11.03" fill="#ea6623"/>
<rect x="101.54" y="344.58" width="17.92" height="11.03" fill="#fdb11a"/>
<rect x="119.16" y="344.58" width="17.92" height="11.03" fill="#ea6623"/>
<rect x="136.78" y="344.58" width="9.11" height="11.03" fill="#bb3454"/>
<rect x="145.59" y="344.58" width="9.11" height="11.03" fill="#fcfba6"/>
<rect x="154.40" y="344.58" width="9.11" height="11.03" fill="#ea6623"/>
<rect x="163.21" y="344.58" width="17.92" height="11.03" fill="#fdb11a"/>
<rect x="180.83" y="344.58" width="9.11" height="11.03" fill="#ea6623"/>
<rect x="189.64" y="344.58" width="9.11" height="11.03" fill="#fdb11a"/>
<rect x="198.45" y="344.58" width="17.92" height="11.03" fill="#ea6623"/>
<rect x="216.07" y="344.58" width="9.11" height="11.03" fill="#bb3454"/>
<rect x="224.88" y="344.58" width="9.11" height="11.03" fill="#fdb11a"/>
<rect x="233.69" y="344.58" width="9.11" height="11.03" fill="#721f7e"/>
<rect x="242.50" y="344.58" width="9.11" height="11.03" fill="#fdb11a"/>
<rect x="251.31" y="344.58" width="17.92" height="11.03" fill="#bb3454"/>
<rect x="268.93" y="344.58" width="17.92" height="11.03" fill="#721f7e"/>
<rect x="286.55" y="344.58" width="9.11" height="11.03" fill="#ea6623"/>
<rect x="66.30" y="354.60" width="17.92" height="11.03" fill="#360d76"/>
<rect x="83.92" y="354.60" width="9.11" height="11.03" fill="#bb3454"/>
<rect x="92.73" y="354.60" width="9.11" height="11.03" fill="#721f7e"/>
<rect x="101.54" y="354.60" width="44.35" height="11.03" fill="#fdb11a"/>
<rect x="145.59" y="354.60" width="9.11" height="11.03" fill="#ea6623"/>
<rect x="154.40" y="354.60" width="9.11" height="11.03" fill="#fdb11a"/>
<rect x="163.21" y="354.60" width="9.11" height="11.03" fill="#bb3454"/>
<rect x="172.02" y="354.60" width="9.11" height="11.03" fill="#fdb11a"/>
<rect x="180.83" y="354.60" width="26.73" height="11.03" fill="#ea6623"/>
<rect x="207.26" y="354.60" width="9.11" height="11.03" fill="#fdb11a"/>
<rect x="216.07" y="354.60" width="9.11" height="11.03" fill="#fcfba6"/>
<rect x="224.88" y="354.60" width="9.11" height="11.03" fill="#fdb11a"/>
<rect x="233.69" y="354.60" width="9.11" height="11.03" fill="#bb3454"/>
<rect x="242.50" y="354.60" width="17.92" height="11.03" fill="#fdb11a"/>
<rect x="260.12" y="354.60" width="26.73" height="11.03" fill="#bb3454"/>
<rect x="286.55" y="354.60" width="9.11" height="11.03" fill="#721f7e"/>
<rect x="66.30" y="364.62" width="17.92" height="11.03" fill="#bb3454"/>
<rect x="83.92" y="364.62" width="9.11" height="11.03" fill="#721f7e"/>
<rect x="92.73" y="364.62" width="9.11" height="11.03" fill="#ea6623"/>
<rect x="101.54" y="364.62" width="9.11" height="11.03" fill="#bb3454"/>
<rect x="110.35" y="364.62" width="9.11" height="11.03" fill="#ea6623"/>
<rect x="119.16" y="364.62" width="9.11" height="11.03" fill="#fdb11a"/>
<rect x="127.97" y="364.62" width="9.11" height="11.03" fill="#ea6623"/>
<rect x="136.78" y="364.62" width="9.11" height="11.03" fill="#bb3454"/>
<rect x="145.59" y="364.62" width="17.92" height="11.03" fill="#fdb11a"/>
<rect x="163.21" y="364.62" width="9.11" height="11.03" fill="#ea6623"/>
<rect x="172.02" y="364.62" width="9.11" height="11.03" fill="#bb3454"/>
<rect x="180.83" y="364.62" width="9.11" height="11.03" fill="#fdb11a"/>
<rect x="189.64" y="364.62" width="9.11" height="11.03" fill="#ea6623"/>
<rect x="198.45" y="364.62" width="9.11" height="11.03" fill="#fdb11a"/>
<rect x="207.26" y="364.62" width="17.92" height="11.03" fill="#ea6623"/>
<rect x="224.88" y="364.62" width="17.92" height="11.03" fill="#fdb11a"/>
<rect x="242.50" y="364.62" width="17.92" height="11.03" fill="#ea6623"/>
<rect x="260.12" y="364.62" width="9.11" height="11.03" fill="#030303"/>
<rect x="268.93" y="364.62" width="9.11" height="11.03" fill="#ea6623"/>
<rect x="277.74" y="364.62" width="17.92" height="11.03" fill="#721f7e"/>
<rect x="66.30" y="374.65" width="9.11" height="11.03" fill="#bb3454"/>
<rect x="75.11" y="374.65" width="26.73" height="11.03" fill="#ea6623"/>
<rect x="101.54" y="374.65" width="35.54" height="11.03" fill="#fdb11a"/>
<rect x="136.78" y="374.65" width="17.92" height="11.03" fill="#ea6623"/>
<rect x="154.40" y="374.65" width="9.11" height="11.03" fill="#fdb11a"/>
<rect x="163.21" y="374.65" width="26.73" height="11.03" fill="#ea6623"/>
<rect x="189.64" y="374.65" width="9.11" height="11.03" fill="#fdb11a"/>
<rect x="198.45" y="374.65" width="9.11" height="11.03" fill="#ea6623"/>
<rect x="207.26" y="374.65" width="26.73" height="11.03" fill="#fdb11a"/>
<rect x="233.69" y="374.65" width="26.73" height="11.03" fill="#ea6623"/>
<rect x="260.12" y="374.65" width="9.11" height="11.03" fill="#721f7e"/>
<rect x="268.93" y="374.65" width="9.11" height="11.03" fill="#030303"/>
<rect x="277.74" y="374.65" width="9.11" height="11.03" fill="#360d76"/>
<rect x="286.55" y="374.65" width="9.11" height="11.03" fill="#030303"/>
<rect x="66.30" y="384.68" width="9.11" height="11.03" fill="#ea6623"/>
<rect x="75.11" y="384.68" width="9.11" height="11.03" fill="#bb3454"/>
<rect x="83.92" y="384.68" width="9.11" height="11.03" fill="#ea6623"/>
<rect x="92.73" y="384.68" width="9.11" height="11.03" fill="#bb3454"/>
<rect x="101.54" y="384.68" width="17.92" height="11.03" fill="#ea6623"/>
<rect x="119.16" y="384.68" width="17.92" height="11.03" fill="#fdb11a"/>
<rect x="136.78" y="384.68" width="17.92" height="11.03" fill="#ea6623"/>
<rect x="154.40" y="384.68" width="9.11" height="11.03" fill="#fdb11a"/>
<rect x="163.21" y="384.68" width="9.11" height="11.03" fill="#ea6623"/>
<rect x="172.02" y="384.68" width="9.11" height="11.03" fill="#bb3454"/>
<rect x="180.83" y="384.68" width="61.97" height="11.03" fill="#ea6623"/>
<rect x="242.50" y="384.68" width="9.11" height="11.03" fill="#fdb11a"/>
<rect x="251.31" y="384.68" width="17.92" height="11.03" fill="#ea6623"/>
<rect x="268.93" y="384.68" width="9.11" height="11.03" fill="#721f7e"/>
<rect x="277.74" y="384.68" width="9.11" height="11.03" fill="#bb3454"/>
<rect x="286.55" y="384.68" width="9.11" height="11.03" fill="#030303"/>
<rect x="66.30" y="394.70" width="185.31" height="11.03" fill="#ea6623"/>
<rect x="251.31" y="394.70" width="9.11" height="11.03" fill="#bb3454"/>
<rect x="260.12" y="394.70" width="17.92" height="11.03" fill="#ea6623"/>
<rect x="277.74" y="394.70" width="9.11" height="11.03" fill="#030303"/>
<rect x="286.55" y="394.70" width="9.11" height="11.03" fill="#721f7e"/>
<rect x="66.30" y="404.73" width="53.16" height="11.03" fill="#fdb11a"/>
<rect x="119.16" y="404.73" width="9.11" height="11.03" fill="#ea6623"/>
<rect x="127.97" y="404.73" width="26.73" height="11.03" fill="#fdb11a"/>
<rect x="154.40" y="404.73" width="70.78" height="11.03" fill="#ea6623"/>
<rect x="224.88" y="404.73" width="9.11" height="11.03" fill="#bb3454"/>
<rect x="233.69" y="404.73" width="9.11" height="11.03" fill="#ea6623"/>
<rect x="242.50" y="404.73" width="26.73" height="11.03" fill="#360d76"/>
<rect x="268.93" y="404.73" width="9.11" height="11.03" fill="#fdb11a"/>
<rect x="277.74" y="404.73" width="9.11" height="11.03" fill="#030303"/>
<rect x="286.55" y="404.73" width="9.11" height="11.03" fill="#360d76"/>
<rect x="66.30" y="414.75" width="70.78" height="11.03" fill="#fdb11a"/>
<rect x="136.78" y="414.75" width="9.11" height="11.03" fill="#ea6623"/>
<rect x="145.59" y="414.75" width="9.11" height="11.03" fill="#fdb11a"/>
<rect x="154.40" y="414.75" width="9.11" height="11.03" fill="#bb3454"/>
<rect x="163.21" y="414.75" width="9.11" height="11.03" fill="#ea6623"/>
<rect x="172.02" y="414.75" width="9.11" height="11.03" fill="#fdb11a"/>
<rect x="180.83" y="414.75" width="9.11" height="11.03" fill="#ea6623"/>
<rect x="189.64" y="414.75" width="9.11" height="11.03" fill="#bb3454"/>
<rect x="198.45" y="414.75" width="9.11" height="11.03" fill="#721f7e"/>
<rect x="207.26" y="414.75" width="9.11" height="11.03" fill="#ea6623"/>
<rect x="216.07" y="414.75" width="17.92" height="11.03" fill="#bb3454"/>
<rect x="233.69" y="414.75" width="9.11" height="11.03" fill="#ea6623"/>
<rect x="242.50" y="414.75" width="9.11" height="11.03" fill="#721f7e"/>
<rect x="251.31" y="414.75" width="9.11" height="11.03" fill="#bb3454"/>
<rect x="260.12" y="414.75" width="9.11" height="11.03" fill="#ea6623"/>
<rect x="268.93" y="414.75" width="9.11" height="11.03" fill="#bb3454"/>
<rect x="277.74" y="414.75" width="9.11" height="11.03" fill="#ea6623"/>
<rect x="286.55" y="414.75" width="9.11" height="11.03" fill="#030303"/>
<rect x="66.30" y="424.77" width="26.73" height="11.03" fill="#fdb11a"/>
<rect x="92.73" y="424.77" width="9.11" height="11.03" fill="#ea6623"/>
<rect x="101.54" y="424.77" width="35.54" height="11.03" fill="#fdb11a"/>
<rect x="136.78" y="424.77" width="26.73" height="11.03" fill="#ea6623"/>
<rect x="163.21" y="424.77" width="9.11" height="11.03" fill="#fdb11a"/>
<rect x="172.02" y="424.77" width="17.92" height="11.03" fill="#721f7e"/>
<rect x="189.64" y="424.77" width="26.73" height="11.03" fill="#ea6623"/>
<rect x="216.07" y="424.77" width="9.11" height="11.03" fill="#bb3454"/>
<rect x="224.88" y="424.77" width="9.11" height="11.03" fill="#030303"/>
<rect x="233.69" y="424.77" width="9.11" height="11.03" fill="#bb3454"/>
<rect x="242.50" y="424.77" width="26.73" height="11.03" fill="#ea6623"/>
<rect x="268.93" y="424.77" width="26.73" height="11.03" fill="#bb3454"/>
<rect x="66.30" y="434.80" width="9.11" height="11.03" fill="#fdb11a"/>
<rect x="75.11" y="434.80" width="17.92" height="11.03" fill="#fcfba6"/>
<rect x="92.73" y="434.80" width="9.11" height="11.03" fill="#ea6623"/>
<rect x="101.54" y="434.80" width="17.92" height="11.03" fill="#fcfba6"/>
<rect x="119.16" y="434.80" width="17.92" height="11.03" fill="#fdb11a"/>
<rect x="136.78" y="434.80" width="9.11" height="11.03" fill="#ea6623"/>
<rect x="145.59" y="434.80" width="9.11" height="11.03" fill="#721f7e"/>
<rect x="154.40" y="434.80" width="35.54" height="11.03" fill="#bb3454"/>
<rect x="189.64" y="434.80" width="9.11" height="11.03" fill="#ea6623"/>
<rect x="198.45" y="434.80" width="17.92" height="11.03" fill="#bb3454"/>
<rect x="216.07" y="434.80" width="9.11" height="11.03" fill="#ea6623"/>
<rect x="224.88" y="434.80" width="17.92" height="11.03" fill="#721f7e"/>
<rect x="242.50" y="434.80" width="9.11" height="11.03" fill="#360d76"/>
<rect x="251.31" y="434.80" width="9.11" height="11.03" fill="#ea6623"/>
<rect x="260.12" y="434.80" width="9.11" height="11.03" fill="#721f7e"/>
<rect x="268.93" y="434.80" width="9.11" height="11.03" fill="#fdb11a"/>
<rect x="277.74" y="434.80" width="9.11" height="11.03" fill="#bb3454"/>
<rect x="286.55" y="434.80" width="9.11" height="11.03" fill="#ea6623"/>
<rect x="66.30" y="444.83" width="9.11" height="11.03" fill="#bb3454"/>
<rect x="75.11" y="444.83" width="9.11" height="11.03" fill="#ea6623"/>
<rect x="83.92" y="444.83" width="9.11" height="11.03" fill="#fdb11a"/>
<rect x="92.73" y="444.83" width="9.11" height="11.03" fill="#ea6623"/>
<rect x="101.54" y="444.83" width="44.35" height="11.03" fill="#fdb11a"/>
<rect x="145.59" y="444.83" width="9.11" height="11.03" fill="#bb3454"/>
<rect x="154.40" y="444.83" width="9.11" height="11.03" fill="#ea6623"/>
<rect x="163.21" y="444.83" width="35.54" height="11.03" fill="#bb3454"/>
<rect x="198.45" y="444.83" width="17.92" height="11.03" fill="#ea6623"/>
<rect x="216.07" y="444.83" width="9.11" height="11.03" fill="#fdb11a"/>
<rect x="224.88" y="444.83" width="9.11" height="11.03" fill="#ea6623"/>
<rect x="233.69" y="444.83" width="9.11" height="11.03" fill="#030303"/>
<rect x="242.50" y="444.83" width="17.92" height="11.03" fill="#bb3454"/>
<rect x="260.12" y="444.83" width="9.11" height="11.03" fill="#360d76"/>
<rect x="268.93" y="444.83" width="9.11" height="11.03" fill="#721f7e"/>
<rect x="277.74" y="444.83" width="9.11" height="11.03" fill="#ea6623"/>
<rect x="286.55" y="444.83" width="9.11" height="11.03" fill="#fdb11a"/>
<rect x="66.30" y="454.85" width="17.92" height="11.03" fill="#ea6623"/>
<rect x="83.92" y="454.85" width="9.11" height="11.03" fill="#fdb11a"/>
<rect x="92.73" y="454.85" width="9.11" height="11.03" fill="#ea6623"/>
<rect x="101.54" y="454.85" width="17.92" height="11.03" fill="#fdb11a"/>
<rect x="119.16" y="454.85" width="17.92" height="11.03" fill="#ea6623"/>
<rect x="136.78" y="454.85" width="9.11" height="11.03" fill="#fdb11a"/>
<rect x="145.59" y="454.85" width="17.92" height="11.03" fill="#ea6623"/>
<rect x="163.21" y="454.85" width="9.11" height="11.03" fill="#bb3454"/>
<rect x="172.02" y="454.85" width="44.35" height="11.03" fill="#ea6623"/>
<rect x="216.07" y="454.85" width="9.11" height="11.03" fill="#fdb11a"/>
<rect x="224.88" y="454.85" width="9.11" height="11.03" fill="#ea6623"/>
<rect x="233.69" y="454.85" width="9.11" height="11.03" fill="#bb3454"/>
<rect x="242.50" y="454.85" width="9.11" height="11.03" fill="#ea6623"/>
<rect x="251.31" y="454.85" width="9.11" height="11.03" fill="#bb3454"/>
<rect x="260.12" y="454.85" width="9.11" height="11.03" fill="#030303"/>
<rect x="268.93" y="454.85" width="9.11" height="11.03" fill="#721f7e"/>
<rect x="277.74" y="454.85" width="9.11" height="11.03" fill="#bb3454"/>
<rect x="286.55" y="454.85" width="9.11" height="11.03" fill="#ea6623"/>
<rect x="66.30" y="464.88" width="9.11" height="11.03" fill="#ea6623"/>
<rect x="75.11" y="464.88" width="70.78" height="11.03" fill="#fdb11a"/>
<rect x="145.59" y="464.88" width="17.92" height="11.03" fill="#ea6623"/>
<rect x="163.21" y="464.88" width="17.92" height="11.03" fill="#bb3454"/>
<rect x="180.83" y="464.88" width="9.11" height="11.03" fill="#ea6623"/>
<rect x="189.64" y="464.88" width="9.11" height="11.03" fill="#bb3454"/>
<rect x="198.45" y="464.88" width="9.11" height="11.03" fill="#ea6623"/>
<rect x="207.26" y="464.88" width="9.11" height="11.03" fill="#fdb11a"/>
<rect x="216.07" y="464.88" width="17.92" height="11.03" fill="#ea6623"/>
<rect x="233.69" y="464.88" width="9.11" height="11.03" fill="#721f7e"/>
<rect x="242.50" y="464.88" width="17.92" height="11.03" fill="#bb3454"/>
<rect x="260.12" y="464.88" width="9.11" height="11.03" fill="#030303"/>
<rect x="268.93" y="464.88" width="9.11" height="11.03" fill="#721f7e"/>
<rect x="277.74" y="464.88" width="9.11" height="11.03" fill="#bb3454"/>
<rect x="286.55" y="464.88" width="9.11" height="11.03" fill="#ea6623"/>
<rect x="66.30" y="474.90" width="9.11" height="11.03" fill="#bb3454"/>
<rect x="75.11" y="474.90" width="70.78" height="11.03" fill="#fdb11a"/>
<rect x="145.59" y="474.90" width="9.11" height="11.03" fill="#bb3454"/>
<rect x="154.40" y="474.90" width="26.73" height="11.03" fill="#ea6623"/>
<rect x="180.83" y="474.90" width="9.11" height="11.03" fill="#bb3454"/>
<rect x="189.64" y="474.90" width="17.92" height="11.03" fill="#ea6623"/>
<rect x="207.26" y="474.90" width="17.92" height="11.03" fill="#fdb11a"/>
<rect x="224.88" y="474.90" width="9.11" height="11.03" fill="#bb3454"/>
<rect x="233.69" y="474.90" width="9.11" height="11.03" fill="#360d76"/>
<rect x="242.50" y="474.90" width="17.92" height="11.03" fill="#721f7e"/>
<rect x="260.12" y="474.90" width="9.11" height="11.03" fill="#bb3454"/>
<rect x="268.93" y="474.90" width="9.11" height="11.03" fill="#030303"/>
<rect x="277.74" y="474.90" width="9.11" height="11.03" fill="#360d76"/>
<rect x="286.55" y="474.90" width="9.11" height="11.03" fill="#bb3454"/>
<rect x="66.30" y="484.93" width="79.59" height="11.03" fill="#fdb11a"/>
<rect x="145.59" y="484.93" width="17.92" height="11.03" fill="#ea6623"/>
<rect x="163.21" y="484.93" width="9.11" height="11.03" fill="#bb3454"/>
<rect x="172.02" y="484.93" width="9.11" height="11.03" fill="#ea6623"/>
<rect x="180.83" y="484.93" width="9.11" height="11.03" fill="#bb3454"/>
<rect x="189.64" y="484.93" width="9.11" height="11.03" fill="#fdb11a"/>
<rect x="198.45" y="484.93" width="9.11" height="11.03" fill="#ea6623"/>
<rect x="207.26" y="484.93" width="17.92" height="11.03" fill="#fdb11a"/>
<rect x="224.88" y="484.93" width="9.11" height="11.03" fill="#ea6623"/>
<rect x="233.69" y="484.93" width="9.11" height="11.03" fill="#721f7e"/>
<rect x="242.50" y="484.93" width="9.11" height="11.03" fill="#bb3454"/>
<rect x="251.31" y="484.93" width="9.11" height="11.03" fill="#721f7e"/>
<rect x="260.12" y="484.93" width="9.11" height="11.03" fill="#360d76"/>
<rect x="268.93" y="484.93" width="9.11" height="11.03" fill="#030303"/>
<rect x="277.74" y="484.93" width="9.11" height="11.03" fill="#360d76"/>
<rect x="286.55" y="484.93" width="9.11" height="11.03" fill="#ea6623"/>
<rect x="66.30" y="494.95" width="79.59" height="11.03" fill="#fdb11a"/>
<rect x="145.59" y="494.95" width="26.73" height="11.03" fill="#bb3454"/>
<rect x="172.02" y="494.95" width="9.11" height="11.03" fill="#fdb11a"/>
<rect x="180.83" y="494.95" width="9.11" height="11.03" fill="#bb3454"/>
<rect x="189.64" y="494.95" width="9.11" height="11.03" fill="#fdb11a"/>
<rect x="198.45" y="494.95" width="9.11" height="11.03" fill="#ea6623"/>
<rect x="207.26" y="494.95" width="17.92" height="11.03" fill="#fdb11a"/>
<rect x="224.88" y="494.95" width="9.11" height="11.03" fill="#ea6623"/>
<rect x="233.69" y="494.95" width="9.11" height="11.03" fill="#360d76"/>
<rect x="242.50" y="494.95" width="17.92" height="11.03" fill="#721f7e"/>
<rect x="260.12" y="494.95" width="9.11" height="11.03" fill="#360d76"/>
<rect x="268.93" y="494.95" width="9.11" height="11.03" fill="#030303"/>
<rect x="277.74" y="494.95" width="9.11" height="11.03" fill="#360d76"/>
<rect x="286.55" y="494.95" width="9.11" height="11.03" fill="#bb3454"/>
<rect x="66.30" y="504.98" width="44.35" height="11.03" fill="#fdb11a"/>
<rect x="110.35" y="504.98" width="9.11" height="11.03" fill="#fcfba6"/>
<rect x="119.16" y="504.98" width="26.73" height="11.03" fill="#fdb11a"/>
<rect x="145.59" y="504.98" width="9.11" height="11.03" fill="#bb3454"/>
<rect x="154.40" y="504.98" width="9.11" height="11.03" fill="#ea6623"/>
<rect x="163.21" y="504.98" width="17.92" height="11.03" fill="#bb3454"/>
<rect x="180.83" y="504.98" width="9.11" height="11.03" fill="#ea6623"/>
<rect x="189.64" y="504.98" width="17.92" height="11.03" fill="#bb3454"/>
<rect x="207.26" y="504.98" width="9.11" height="11.03" fill="#fdb11a"/>
<rect x="216.07" y="504.98" width="9.11" height="11.03" fill="#ea6623"/>
<rect x="224.88" y="504.98" width="17.92" height="11.03" fill="#bb3454"/>
<rect x="242.50" y="504.98" width="9.11" height="11.03" fill="#721f7e"/>
<rect x="251.31" y="504.98" width="17.92" height="11.03" fill="#bb3454"/>
<rect x="268.93" y="504.98" width="9.11" height="11.03" fill="#360d76"/>
<rect x="277.74" y="504.98" width="9.11" height="11.03" fill="#721f7e"/>
<rect x="286.55" y="504.98" width="9.11" height="11.03" fill="#bb3454"/>
<rect x="66.30" y="515.00" width="26.73" height="11.03" fill="#fcfba6"/>
<rect x="92.73" y="515.00" width="9.11" height="11.03" fill="#fdb11a"/>
<rect x="101.54" y="515.00" width="17.92" height="11.03" fill="#fcfba6"/>
<rect x="119.16" y="515.00" width="26.73" height="11.03" fill="#fdb11a"/>
<rect x="145.59" y="515.00" width="17.92" height="11.03" fill="#bb3454"/>
<rect x="163.21" y="515.00" width="9.11" height="11.03" fill="#721f7e"/>
<rect x="172.02" y="515.00" width="9.11" height="11.03" fill="#bb3454"/>
<rect x="180.83" y="515.00" width="17.92" height="11.03" fill="#ea6623"/>
<rect x="198.45" y="515.00" width="9.11" height="11.03" fill="#bb3454"/>
<rect x="207.26" y="515.00" width="17.92" height="11.03" fill="#ea6623"/>
<rect x="224.88" y="515.00" width="9.11" height="11.03" fill="#721f7e"/>
<rect x="233.69" y="515.00" width="9.11" height="11.03" fill="#360d76"/>
<rect x="242.50" y="515.00" width="9.11" height="11.03" fill="#721f7e"/>
<rect x="251.31" y="515.00" width="9.11" height="11.03" fill="#bb3454"/>
<rect x="260.12" y="515.00" width="17.92" height="11.03" fill="#721f7e"/>
<rect x="277.74" y="515.00" width="17.92" height="11.03" fill="#bb3454"/>
<rect x="66.30" y="525.03" width="53.16" height="10.03" fill="#fcfba6"/>
<rect x="119.16" y="525.03" width="9.11" height="10.03" fill="#fdb11a"/>
<rect x="127.97" y="525.03" width="9.11" height="10.03" fill="#ea6623"/>
<rect x="136.78" y="525.03" width="9.11" height="10.03" fill="#fdb11a"/>
<rect x="145.59" y="525.03" width="9.11" height="10.03" fill="#bb3454"/>
<rect x="154.40" y="525.03" width="9.11" height="10.03" fill="#721f7e"/>
<rect x="163.21" y="525.03" width="35.54" height="10.03" fill="#bb3454"/>
<rect x="198.45" y="525.03" width="9.11" height="10.03" fill="#ea6623"/>
<rect x="207.26" y="525.03" width="17.92" height="10.03" fill="#bb3454"/>
<rect x="224.88" y="525.03" width="9.11" height="10.03" fill="#ea6623"/>
<rect x="233.69" y="525.03" width="9.11" height="10.03" fill="#721f7e"/>
<rect x="242.50" y="525.03" width="9.11" height="10.03" fill="#bb3454"/>
<rect x="251.31" y="525.03" width="9.11" height="10.03" fill="#721f7e"/>
<rect x="260.12" y="525.03" width="9.11" height="10.03" fill="#360d76"/>
<rect x="268.93" y="525.03" width="17.92" height="10.03" fill="#721f7e"/>
<rect x="286.55" y="525.03" width="9.11" height="10.03" fill="#bb3454"/>
<rect x="66.30" y="234.30" width="229.06" height="300.75" fill="none" stroke="#111" stroke-width="1"/>
<line x1="65.80" y1="535.95" x2="295.86" y2="535.95" stroke="#1a0c10" stroke-width="1.8"/>
<rect x="39.9" y="229.4" width="467.4" height="105.5" fill="none" stroke="#ff1a1a" stroke-width="1.9" stroke-dasharray="6.3 4.6"/>
<rect x="39.8" y="393.2" width="357.4" height="142.7" fill="none" stroke="#1e96ff" stroke-width="1.9" stroke-dasharray="6.4 4.5"/>
<g font-family="'Liberation Serif', 'DejaVu Serif', serif" font-style="italic" font-weight="bold" font-size="7" fill="#111">
<text transform="translate(297.7 242.31) scale(1 1.13)" stroke="#111" stroke-width="0.12">(5R)-5-hydroxy-1-(4-hydroxy-3-methoxyphenyl)tetradecan-3-one</text>
<text transform="translate(297.7 252.34) scale(1 1.13)" stroke="#111" stroke-width="0.12">4-p-coumaroylquinic acid</text>
<text transform="translate(297.7 262.36) scale(1 1.13)" stroke="#111" stroke-width="0.12">Vaccinoside</text>
<text transform="translate(297.7 272.39) scale(1 1.13)" stroke="#111" stroke-width="0.12">Chlorogenic acid</text>
<text transform="translate(297.7 282.41) scale(1 1.13)" stroke="#111" stroke-width="0.12">Quercetin 3-(6&#39;&#39;-O-acetylgalactoside)</text>
<text transform="translate(297.7 292.44) scale(1 1.13)" stroke="#111" stroke-width="0.12">(S)-5&#39;-Deoxy-5&#39;-(methylsulfinyl)adenosine</text>
<text transform="translate(297.7 302.46) scale(1 1.13)" stroke="#111" stroke-width="0.12">Adenosine</text>
<text transform="translate(297.7 312.49) scale(1 1.13)" stroke="#111" stroke-width="0.12">E-4-O-β-D-glucopyranosyl-p-coumaric acid</text>
<text transform="translate(297.7 322.51) scale(1 1.13)" stroke="#111" stroke-width="0.12">Sodium myristyl sulfate</text>
<text transform="translate(297.7 332.54) scale(1 1.13)" stroke="#111" stroke-width="0.12">N-Oleoylethanolamine</text>
<text transform="translate(297.7 342.56) scale(1 1.13)" stroke="#111" stroke-width="0.12">Epiandrosterone</text>
<text transform="translate(297.7 352.59) scale(1 1.13)" stroke="#111" stroke-width="0.12">Tetradecyldiethanolamine</text>
<text transform="translate(297.7 362.61) scale(1 1.13)" stroke="#111" stroke-width="0.12">Phenylalanine</text>
<text transform="translate(297.7 372.64) scale(1 1.13)" stroke="#111" stroke-width="0.12">Memantine</text>
<text transform="translate(297.7 382.66) scale(1 1.13)" stroke="#111" stroke-width="0.12">Tryptophan</text>
<text transform="translate(297.7 392.69) scale(1 1.13)" stroke="#111" stroke-width="0.12">Hirsutanone</text>
<text transform="translate(297.7 402.71) scale(1 1.13)" stroke="#111" stroke-width="0.12">Mulberrin</text>
<text transform="translate(297.7 412.74) scale(1 1.13)" stroke="#111" stroke-width="0.12">Sodium tetradecyl sulfate</text>
<text transform="translate(297.7 422.76) scale(1 1.13)" stroke="#111" stroke-width="0.12">Sayaendoside</text>
<text transform="translate(297.7 432.79) scale(1 1.13)" stroke="#111" stroke-width="0.12">Benzyl beta-d-glucopyranoside</text>
<text transform="translate(297.7 442.81) scale(1 1.13)" stroke="#111" stroke-width="0.12">Zeaxanthin</text>
<text transform="translate(297.7 452.84) scale(1 1.13)" stroke="#111" stroke-width="0.12">Quercetin 3,4&#39;-diglucoside</text>
<text transform="translate(297.7 462.86) scale(1 1.13)" stroke="#111" stroke-width="0.12">Quercetin</text>
<text transform="translate(297.7 472.89) scale(1 1.13)" stroke="#111" stroke-width="0.12">Astragalin</text>
<text transform="translate(297.7 482.91) scale(1 1.13)" stroke="#111" stroke-width="0.12">Skimmin</text>
<text transform="translate(297.7 492.94) scale(1 1.13)" stroke="#111" stroke-width="0.12">Cyanin</text>
<text transform="translate(297.7 502.96) scale(1 1.13)" stroke="#111" stroke-width="0.12">Esculin</text>
<text transform="translate(297.7 512.99) scale(1 1.13)" stroke="#111" stroke-width="0.12">Kaempferol</text>
<text transform="translate(297.7 523.01) scale(1 1.13)" stroke="#111" stroke-width="0.12">Gentiopicroside</text>
<text transform="translate(297.7 533.04) scale(1 1.13)" stroke="#111" stroke-width="0.12">Salicin</text>
<text x="73.11" y="541.40" font-size="7.9" text-anchor="end" stroke="#111" stroke-width="0.18" transform="rotate(-90 73.11 541.40)">ST1</text>
<text x="81.92" y="541.40" font-size="7.9" text-anchor="end" stroke="#111" stroke-width="0.18" transform="rotate(-90 81.92 541.40)">ST2</text>
<text x="90.73" y="541.40" font-size="7.9" text-anchor="end" stroke="#111" stroke-width="0.18" transform="rotate(-90 90.73 541.40)">ST3</text>
<text x="99.53" y="541.40" font-size="7.9" text-anchor="end" stroke="#111" stroke-width="0.18" transform="rotate(-90 99.53 541.40)">ST6</text>
<text x="108.34" y="541.40" font-size="7.9" text-anchor="end" stroke="#111" stroke-width="0.18" transform="rotate(-90 108.34 541.40)">ST4</text>
<text x="117.16" y="541.40" font-size="7.9" text-anchor="end" stroke="#111" stroke-width="0.18" transform="rotate(-90 117.16 541.40)">ST5</text>
<text x="125.97" y="541.40" font-size="7.9" text-anchor="end" stroke="#111" stroke-width="0.18" transform="rotate(-90 125.97 541.40)">ST7</text>
<text x="134.78" y="541.40" font-size="7.9" text-anchor="end" stroke="#111" stroke-width="0.18" transform="rotate(-90 134.78 541.40)">ST8</text>
<text x="143.59" y="541.40" font-size="7.9" text-anchor="end" stroke="#111" stroke-width="0.18" transform="rotate(-90 143.59 541.40)">ST9</text>
<text x="152.40" y="541.40" font-size="7.9" text-anchor="end" stroke="#111" stroke-width="0.18" transform="rotate(-90 152.40 541.40)">ST10</text>
<text x="161.21" y="541.40" font-size="7.9" text-anchor="end" stroke="#111" stroke-width="0.18" transform="rotate(-90 161.21 541.40)">ST17</text>
<text x="170.02" y="541.40" font-size="7.9" text-anchor="end" stroke="#111" stroke-width="0.18" transform="rotate(-90 170.02 541.40)">ST19</text>
<text x="178.83" y="541.40" font-size="7.9" text-anchor="end" stroke="#111" stroke-width="0.18" transform="rotate(-90 178.83 541.40)">ST11</text>
<text x="187.64" y="541.40" font-size="7.9" text-anchor="end" stroke="#111" stroke-width="0.18" transform="rotate(-90 187.64 541.40)">ST15</text>
<text x="196.45" y="541.40" font-size="7.9" text-anchor="end" stroke="#111" stroke-width="0.18" transform="rotate(-90 196.45 541.40)">ST13</text>
<text x="205.26" y="541.40" font-size="7.9" text-anchor="end" stroke="#111" stroke-width="0.18" transform="rotate(-90 205.26 541.40)">ST18</text>
<text x="214.07" y="541.40" font-size="7.9" text-anchor="end" stroke="#111" stroke-width="0.18" transform="rotate(-90 214.07 541.40)">ST16</text>
<text x="222.88" y="541.40" font-size="7.9" text-anchor="end" stroke="#111" stroke-width="0.18" transform="rotate(-90 222.88 541.40)">ST12</text>
<text x="231.69" y="541.40" font-size="7.9" text-anchor="end" stroke="#111" stroke-width="0.18" transform="rotate(-90 231.69 541.40)">ST14</text>
<text x="240.50" y="541.40" font-size="7.9" text-anchor="end" stroke="#111" stroke-width="0.18" transform="rotate(-90 240.50 541.40)">ST20</text>
<text x="249.31" y="541.40" font-size="7.9" text-anchor="end" stroke="#111" stroke-width="0.18" transform="rotate(-90 249.31 541.40)">ST21</text>
<text x="258.12" y="541.40" font-size="7.9" text-anchor="end" stroke="#111" stroke-width="0.18" transform="rotate(-90 258.12 541.40)">ST25</text>
<text x="266.93" y="541.40" font-size="7.9" text-anchor="end" stroke="#111" stroke-width="0.18" transform="rotate(-90 266.93 541.40)">ST22</text>
<text x="275.74" y="541.40" font-size="7.9" text-anchor="end" stroke="#111" stroke-width="0.18" transform="rotate(-90 275.74 541.40)">ST23</text>
<text x="284.54" y="541.40" font-size="7.9" text-anchor="end" stroke="#111" stroke-width="0.18" transform="rotate(-90 284.54 541.40)">ST26</text>
<text x="293.35" y="541.40" font-size="7.9" text-anchor="end" stroke="#111" stroke-width="0.18" transform="rotate(-90 293.35 541.40)">ST27</text>
</g>
<rect x="414.9" y="359.30" width="20.40" height="19.76" fill="#030303"/>
<rect x="414.9" y="378.76" width="20.40" height="19.76" fill="#030303"/>
<rect x="414.9" y="398.21" width="20.40" height="19.76" fill="#360d76"/>
<rect x="414.9" y="417.67" width="20.40" height="19.76" fill="#721f7e"/>
<rect x="414.9" y="437.12" width="20.40" height="19.76" fill="#bb3454"/>
<rect x="414.9" y="456.58" width="20.40" height="19.76" fill="#ea6623"/>
<rect x="414.9" y="476.03" width="20.40" height="19.76" fill="#fdb11a"/>
<rect x="414.9" y="495.49" width="20.40" height="19.76" fill="#fcfba6"/>
<rect x="414.9" y="514.94" width="20.40" height="19.76" fill="#f6f1cb"/>
<rect x="414.9" y="359.3" width="20.40" height="175.10" fill="none" stroke="#333" stroke-width="0.8"/>
<line x1="435.3" y1="378.76" x2="440.3" y2="378.76" stroke="#222" stroke-width="1"/>
<text transform="translate(443.00 381.66) scale(1 1.15)" font-size="7.7" fill="#1a1a1a" stroke="#1a1a1a" stroke-width="0.1" font-family="'Liberation Serif', 'DejaVu Serif', serif">0.855</text>
<line x1="435.3" y1="398.21" x2="440.3" y2="398.21" stroke="#222" stroke-width="1"/>
<text transform="translate(443.00 401.11) scale(1 1.15)" font-size="7.7" fill="#1a1a1a" stroke="#1a1a1a" stroke-width="0.1" font-family="'Liberation Serif', 'DejaVu Serif', serif">0.655</text>
<line x1="435.3" y1="417.67" x2="440.3" y2="417.67" stroke="#222" stroke-width="1"/>
<text transform="translate(443.00 420.57) scale(1 1.15)" font-size="7.7" fill="#1a1a1a" stroke="#1a1a1a" stroke-width="0.1" font-family="'Liberation Serif', 'DejaVu Serif', serif">0.455</text>
<line x1="435.3" y1="437.12" x2="440.3" y2="437.12" stroke="#222" stroke-width="1"/>
<text transform="translate(443.00 440.02) scale(1 1.15)" font-size="7.7" fill="#1a1a1a" stroke="#1a1a1a" stroke-width="0.1" font-family="'Liberation Serif', 'DejaVu Serif', serif">0.255</text>
<line x1="435.3" y1="456.58" x2="440.3" y2="456.58" stroke="#222" stroke-width="1"/>
<text transform="translate(443.00 459.48) scale(1 1.15)" font-size="7.7" fill="#1a1a1a" stroke="#1a1a1a" stroke-width="0.1" font-family="'Liberation Serif', 'DejaVu Serif', serif">0.0550</text>
<line x1="435.3" y1="476.03" x2="440.3" y2="476.03" stroke="#222" stroke-width="1"/>
<text transform="translate(441.80 478.93) scale(1 1.15)" font-size="7.7" fill="#1a1a1a" stroke="#1a1a1a" stroke-width="0.1" font-family="'Liberation Serif', 'DejaVu Serif', serif">-<tspan dx="0.9">0.145</tspan></text>
<line x1="435.3" y1="495.49" x2="440.3" y2="495.49" stroke="#222" stroke-width="1"/>
<text transform="translate(441.80 498.39) scale(1 1.15)" font-size="7.7" fill="#1a1a1a" stroke="#1a1a1a" stroke-width="0.1" font-family="'Liberation Serif', 'DejaVu Serif', serif">-<tspan dx="0.9">0.345</tspan></text>
<line x1="435.3" y1="514.94" x2="440.3" y2="514.94" stroke="#222" stroke-width="1"/>
<text transform="translate(441.80 517.84) scale(1 1.15)" font-size="7.7" fill="#1a1a1a" stroke="#1a1a1a" stroke-width="0.1" font-family="'Liberation Serif', 'DejaVu Serif', serif">-<tspan dx="0.9">0.545</tspan></text>
<text x="15.50" y="245.90" font-size="13" fill="#000" text-anchor="start" font-family="'Liberation Serif', 'DejaVu Serif', serif" font-weight="bold">c</text>
</svg>
</body></html>
